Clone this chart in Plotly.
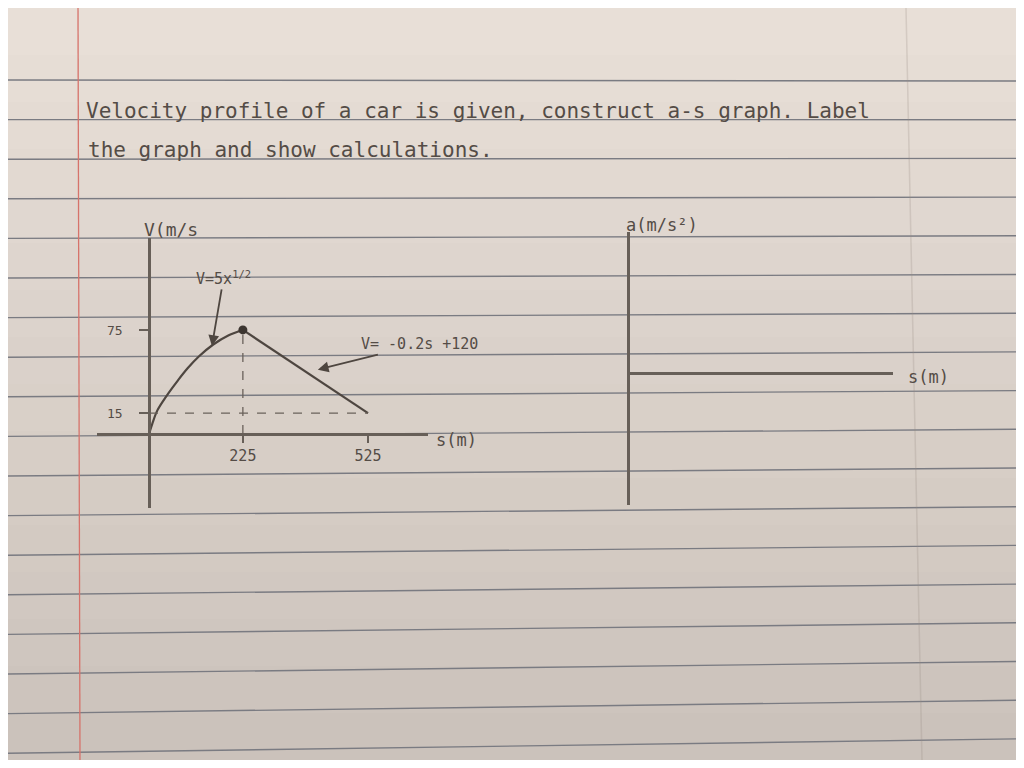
import plotly.graph_objects as go

# velocity profile as sketched (s in m, v in m/s)
s_rise = [0, 8, 20, 41, 69, 93, 120, 154, 190, 225]
v_rise = [0, 7.5, 17, 27, 38.5, 47.5, 56, 64.5, 71, 75]
s_fall = [225, 525]
v_fall = [75, 15]
s_ticks = [225, 525]
s_labels = ["225", "525"]
v_ticks = [15, 75]
v_labels = ["15", "75"]
s_peak, v_peak = 225, 75
v_guide = 15

# the page body keeps an 8px margin, so the figure sits 8px in
OFF = 8
W, H = 1024 - 2 * OFF, 768 - 2 * OFF
PENCIL = "#4e4640"
TEXT = "#544c46"
FONT = "DejaVu Sans Mono"


def fx(x):
    # window pixel column -> paper fraction
    return (x - OFF) / W


def fy(y):
    # window pixel row -> paper fraction
    return 1 - (y - OFF) / H


fig = go.Figure()

fig.add_trace(go.Scatter(x=s_rise, y=v_rise, mode="lines",
                         line=dict(color=PENCIL, width=2.2, shape="spline", smoothing=1.0),
                         showlegend=False, hoverinfo="skip"))
fig.add_trace(go.Scatter(x=s_fall, y=v_fall, mode="lines",
                         line=dict(color=PENCIL, width=2.2),
                         showlegend=False, hoverinfo="skip"))
# dashed guides
fig.add_trace(go.Scatter(x=[0, s_fall[-1]], y=[v_guide, v_guide], mode="lines",
                         line=dict(color="#6a625b", width=1.3, dash="dash"),
                         showlegend=False, hoverinfo="skip"))
fig.add_trace(go.Scatter(x=[s_peak, s_peak], y=[0, v_peak], mode="lines",
                         line=dict(color="#6a625b", width=1.3, dash="dash"),
                         showlegend=False, hoverinfo="skip"))
fig.add_trace(go.Scatter(x=[s_peak], y=[v_peak], mode="markers",
                         marker=dict(color="#3c3530", size=9),
                         showlegend=False, hoverinfo="skip"))
# a-s graph is left blank in the sketch (axes only)
fig.add_trace(go.Scatter(x=[], y=[], xaxis="x2", yaxis="y2", mode="lines",
                         showlegend=False, hoverinfo="skip"))

axis_common = dict(showgrid=False, zeroline=False, showline=True,
                   linecolor="#675f58", linewidth=2.6, anchor="free")

fig.update_layout(
    xaxis=dict(axis_common, domain=[fx(97), fx(428)], range=[-124.7, 668.8],
               position=fy(434), ticks="outside", ticklen=7, tickwidth=2,
               tickcolor="#675f58", tickvals=s_ticks, ticktext=s_labels,
               tickfont=dict(family=FONT, size=15, color=TEXT)),
    yaxis=dict(axis_common, domain=[fy(508), fy(238)], range=[-53.4, 141.3],
               position=fx(149), ticks="outside", ticklen=9, tickwidth=2,
               tickcolor="#675f58", tickvals=v_ticks, ticktext=v_labels,
               ticklabelstandoff=14,
               tickfont=dict(family=FONT, size=13, color=TEXT)),
    xaxis2=dict(axis_common, domain=[fx(628), fx(893)], range=[0, 1],
                position=fy(373), showticklabels=False, ticks=""),
    yaxis2=dict(axis_common, domain=[fy(505), fy(232)], range=[-1, 1],
                position=fx(628), showticklabels=False, ticks=""),
)

notes = [
    ("Velocity profile of a car is given, construct a-s graph. Label", 84, 111, 21, "left"),
    ("the graph and show calculations.", 86, 150, 21, "left"),
    ("V(m/s", 142, 229, 18, "left"),
    ("s(m)", 456, 440, 17, "center"),
    ("a(m/s²)", 662, 225, 17, "center"),
    ("s(m)", 928, 377, 17, "center"),
]
for text, x, y, size, anchor in notes:
    fig.add_annotation(text=text, x=fx(x), y=fy(y), xref="paper", yref="paper",
                       xanchor=anchor, yanchor="middle", showarrow=False,
                       font=dict(family=FONT, size=size, color=TEXT))

# labelled equations with their pointer arrows
fig.add_annotation(text="V=5x<sup>1/2</sup>", x=150, y=62, xref="x", yref="y",
                   ax=12, ay=-70, showarrow=True, arrowhead=2, arrowsize=1.2,
                   arrowwidth=1.8, arrowcolor=PENCIL, standoff=2,
                   font=dict(family=FONT, size=15, color=TEXT))
fig.add_annotation(text="V= -0.2s +120", x=400, y=46, xref="x", yref="y",
                   ax=104, ay=-26, showarrow=True, arrowhead=2, arrowsize=1.2,
                   arrowwidth=1.8, arrowcolor=PENCIL, standoff=2,
                   font=dict(family=FONT, size=15, color=TEXT))

shapes = []
# paper shading, lighter at the top
top, bottom = (232, 223, 215), (203, 194, 187)
bands = 16
for i in range(bands):
    t = i / (bands - 1)
    c = tuple(round(a + (b - a) * t) for a, b in zip(top, bottom))
    shapes.append(dict(type="rect", xref="paper", yref="paper", layer="below",
                       x0=0, x1=1, y0=i and 1 - (i + 1) / bands, y1=1 - i / bands,
                       line=dict(width=0), fillcolor="rgb(%d,%d,%d)" % c))
# ruled lines (slight perspective)
for i in range(18):
    shapes.append(dict(type="line", xref="paper", yref="paper", layer="below",
                       x0=0, x1=1, y0=fy(80 + 39.6 * i), y1=fy(81 + 38.7 * i),
                       line=dict(color="#7a7b82", width=1.4)))
# red margin and the faint fold
shapes.append(dict(type="line", xref="paper", yref="paper", layer="below",
                   x0=fx(78), x1=fx(80), y0=1, y1=0,
                   line=dict(color="#d6736b", width=1.3)))
shapes.append(dict(type="line", xref="paper", yref="paper", layer="below",
                   x0=fx(906), x1=fx(922), y0=1, y1=0,
                   line=dict(color="rgba(150,140,130,0.25)", width=1.5)))

fig.update_layout(
    shapes=shapes,
    width=W, height=H,
    margin=dict(l=0, r=0, t=0, b=0),
    paper_bgcolor="#ddd3cb",
    plot_bgcolor="rgba(0,0,0,0)",
    showlegend=False,
)

fig.write_html("out.html")
